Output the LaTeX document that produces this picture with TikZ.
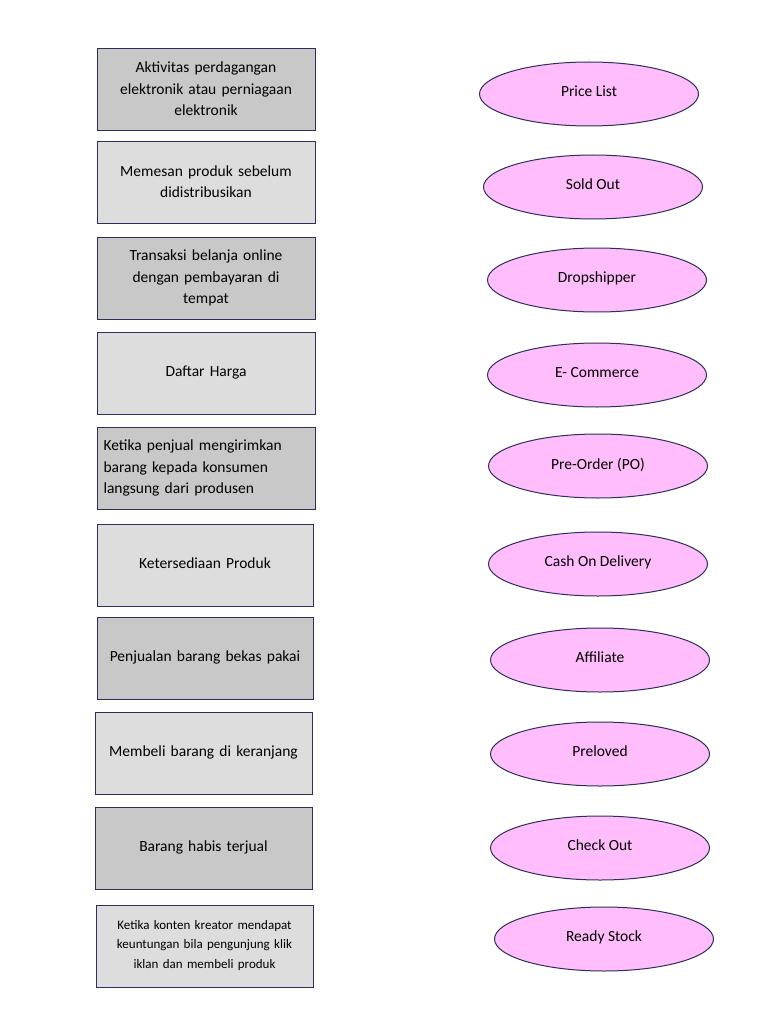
\documentclass[tikz,border=0pt]{standalone}
\usepackage{fontspec}
\setmainfont{Carlito}
\usetikzlibrary{shapes.geometric}
\definecolor{dg}{HTML}{C8C8C8}
\definecolor{lg}{HTML}{DDDDDD}
\definecolor{pk}{HTML}{FFBDFB}
\definecolor{nv}{HTML}{2B2F5A}
\begin{document}
\begin{tikzpicture}[x=1pt,y=-1pt,
 box/.style={draw=nv,line width=1pt,minimum width=218pt,minimum height=82pt,align=center,text width=205pt,font=\fontsize{15.5}{21.5}\selectfont},
 ov/.style={ellipse,draw=nv,line width=1pt,fill=pk,minimum width=219pt,minimum height=64pt,font=\fontsize{15.5}{18}\selectfont}]
\useasboundingbox (0,0) rectangle (768,1024);
\node[box,fill=dg] (r1) at (206,90) {\raisebox{2pt}{Aktivitas perdagangan}\\\raisebox{2pt}{elektronik atau perniagaan}\\\raisebox{2pt}{elektronik}};
\node[box,fill=lg] (r2) at (206,183) {\raisebox{3pt}{Memesan produk sebelum}\\\raisebox{3pt}{didistribusikan}};
\node[box,fill=dg] (r3) at (206,278) {Transaksi belanja online\\dengan pembayaran di\\tempat};
\node[box,fill=lg] (r4) at (206,373) {\raisebox{4pt}{Daftar Harga}};
\node[box,fill=dg,align=left] (r5) at (206,468) {Ketika penjual mengirimkan\\barang kepada konsumen\\langsung dari produsen};
\node[box,fill=lg,minimum width=216pt] (r6) at (205,565) {\raisebox{4pt}{Ketersediaan Produk}};
\node[box,fill=dg,minimum width=216pt] (r7) at (205,658) {\raisebox{4pt}{Penjualan barang bekas pakai}};
\node[box,fill=lg,minimum width=217pt] (r8) at (203.5,753) {\raisebox{4pt}{Membeli barang di keranjang}};
\node[box,fill=dg,minimum width=217pt] (r9) at (203.5,848) {\raisebox{4pt}{Barang habis terjual}};
\node[box,fill=lg,minimum width=217pt,font=\fontsize{13}{19.5}\selectfont] (r10) at (204.5,946) {\raisebox{4pt}{Ketika konten kreator mendapat}\\\raisebox{4pt}{keuntungan bila pengunjung klik}\\\raisebox{4pt}{iklan dan membeli produk}};
\node[ov] (e1) at (589,94) {\raisebox{5pt}{Price List}};
\node[ov] (e2) at (593,187) {\raisebox{5pt}{Sold Out}};
\node[ov] (e3) at (597,280) {\raisebox{5pt}{Dropshipper}};
\node[ov] (e4) at (597,375) {\raisebox{5pt}{E- Commerce}};
\node[ov] (e5) at (598,466) {\raisebox{5pt}{Pre-Order (PO)}};
\node[ov] (e6) at (598,564) {\raisebox{5pt}{Cash On Delivery}};
\node[ov] (e7) at (600,660) {\raisebox{5pt}{Affiliate}};
\node[ov] (e8) at (600,754) {\raisebox{5pt}{Preloved}};
\node[ov] (e9) at (600,848) {\raisebox{5pt}{Check Out}};
\node[ov] (e10) at (604,939) {\raisebox{5pt}{Ready Stock}};
\end{tikzpicture}
\end{document}
